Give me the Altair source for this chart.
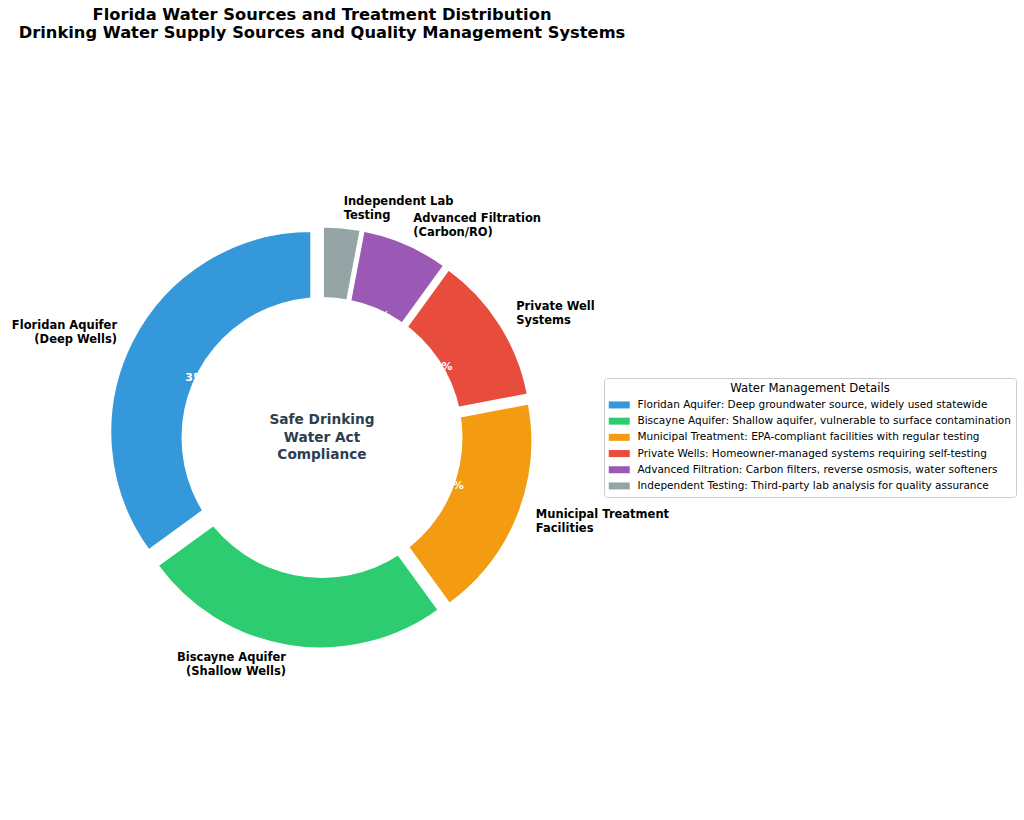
import math
import altair as alt
import pandas as pd

# ---- data ----
SOURCES = [
    "Floridan Aquifer\n(Deep Wells)",
    "Biscayne Aquifer\n(Shallow Wells)",
    "Municipal Treatment\nFacilities",
    "Private Well\nSystems",
    "Advanced Filtration\n(Carbon/RO)",
    "Independent Lab\nTesting",
]
SHARES = [35, 25, 18, 12, 7, 3]
DETAILS = [
    "Floridan Aquifer: Deep groundwater source, widely used statewide",
    "Biscayne Aquifer: Shallow aquifer, vulnerable to surface contamination",
    "Municipal Treatment: EPA-compliant facilities with regular testing",
    "Private Wells: Homeowner-managed systems requiring self-testing",
    "Advanced Filtration: Carbon filters, reverse osmosis, water softeners",
    "Independent Testing: Third-party lab analysis for quality assurance",
]
COLORS = ["#3498db", "#2ecc71", "#f39c12", "#e74c3c", "#9b59b6", "#95a5a6"]
TITLE_LINES = [
    "Florida Water Sources and Treatment Distribution",
    "Drinking Water Supply Sources and Quality Management Systems",
]
CENTER_LINES = ["Safe Drinking", "Water Act", "Compliance"]

# ---- layout / style ----
W, H_PAGE = 1024, 820
PAD_TOP = 50
H = H_PAGE - PAD_TOP
CX, CY = 322, 437.5 - PAD_TOP
R = 201
R_HOLE = 140.5
TOTAL = sum(SHARES)
FONT = "DejaVu Sans"

df = pd.DataFrame({
    "source": SOURCES,
    "share": SHARES,
    "detail": DETAILS,
    "idx": list(range(len(SOURCES))),
})

theta_scale = alt.Scale(domain=[0, TOTAL], range=[0, 2 * math.pi])

base = alt.Chart(df).transform_window(
    end="sum(share)",
    sort=[alt.SortField("idx", order="descending")],
    frame=[None, 0],
).transform_calculate(
    start="datum.end - datum.share",
    mid="(datum.start + datum.end) / 2",
    ang=f"(datum.start + datum.end) / 2 / {TOTAL} * 2 * PI",
    ex="datum.idx == 0 ? 12 : 10",
    dx="datum.ex * sin(datum.ang)",
    dy="-datum.ex * cos(datum.ang)",
    pct=f"format(datum.share / {TOTAL}, '.1%')",
)

pos = dict(x=alt.value(CX), y=alt.value(CY))

arcs = base.mark_arc(outerRadius=R, innerRadius=0, stroke="white", strokeWidth=2).encode(
    **pos,
    xOffset=alt.XOffset("dx:Q", scale=None),
    yOffset=alt.YOffset("dy:Q", scale=None),
    theta=alt.Theta("start:Q", scale=theta_scale, stack=None),
    theta2="end:Q",
    color=alt.Color(
        "detail:N",
        scale=alt.Scale(domain=DETAILS, range=COLORS),
        legend=alt.Legend(
            title="Water Management Details",
            orient="none",
            legendX=604,
            legendY=378 - PAD_TOP,
            direction="vertical",
            titleFont=FONT,
            titleFontSize=11.7,
            titleFontWeight="normal",
            titleColor="black",
            titleAnchor="middle",
            titlePadding=5,
            labelFont=FONT,
            labelFontSize=10.5,
            labelColor="black",
            labelLimit=600,
            labelOffset=18,
            symbolType="M-1.571,-1H4.429V1H-1.571Z",
            symbolSize=49,
            symbolStrokeWidth=0,
            symbolOpacity=1,
            rowPadding=5.2,
            padding=5,
            strokeColor="#cccccc",
            fillColor="white",
            cornerRadius=3,
        ),
    ),
)

pct = base.mark_text(
    radius=132, font=FONT, fontSize=11, fontWeight="bold", color="white",
    align="center", baseline="middle",
).encode(
    **pos,
    theta=alt.Theta("mid:Q", scale=theta_scale, stack=None),
    text="pct:N",
)

hole = alt.Chart(pd.DataFrame({"h": [0]})).mark_arc(
    outerRadius=R_HOLE, innerRadius=0, theta=0, theta2=2 * math.pi, color="white"
).encode(**pos)

center = alt.Chart(pd.DataFrame({"h": [0]})).mark_text(
    text=CENTER_LINES, font=FONT, fontSize=13.7, fontWeight="bold", color="#2c3e50",
    lineHeight=17.5, align="center", baseline="middle", dy=-17.5,
).encode(**pos)

label_style = dict(radius=230, baseline="middle", lineBreak="\n", font=FONT,
                   fontSize=11.5, fontWeight="bold", color="black", lineHeight=14, dy=-7)

labels_right = base.transform_filter("sin(datum.ang) >= 0").mark_text(
    align="left", **label_style
).encode(**pos, theta=alt.Theta("mid:Q", scale=theta_scale, stack=None), text="source:N")

labels_left = base.transform_filter("sin(datum.ang) < 0").mark_text(
    align="right", **label_style
).encode(**pos, theta=alt.Theta("mid:Q", scale=theta_scale, stack=None), text="source:N")

chart = alt.layer(arcs, pct, hole, center, labels_right, labels_left).properties(
    width=W,
    height=H,
    padding={"left": 0, "top": PAD_TOP, "right": 0, "bottom": 0},
    autosize=alt.AutoSizeParams(type="none"),
    background="white",
    title=alt.TitleParams(
        TITLE_LINES,
        font=FONT,
        fontSize=16.3,
        fontWeight="bold",
        color="black",
        anchor="middle",
        dx=CX - W / 2,
        lineHeight=18,
        offset=9,
    ),
).configure_view(stroke=None)

chart.save("out.html", embed_options={"renderer": "svg", "actions": False})
